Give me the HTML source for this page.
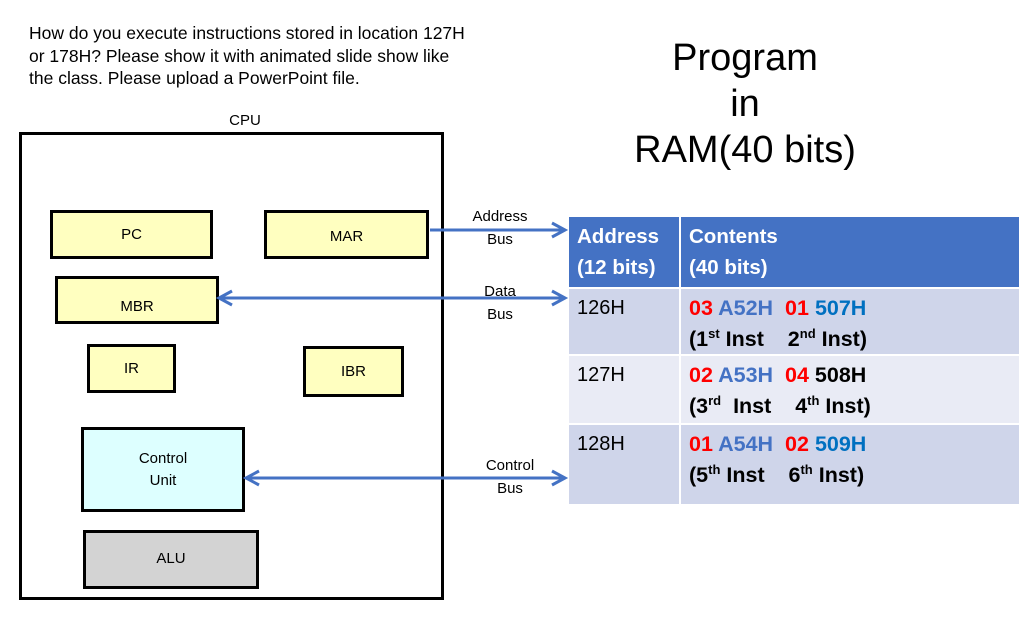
<!DOCTYPE html>
<html><head><meta charset="utf-8"><style>
body{margin:0;width:1022px;height:638px;background:#fff;position:relative;font-family:"Liberation Sans",sans-serif;overflow:hidden}
.a{position:absolute;box-sizing:border-box}
.bx{border:3px solid #000;background:#FFFFC0;display:flex;align-items:center;justify-content:center;font-size:15px}
.c{position:absolute;font-size:15px;text-align:center;line-height:23px}
.r{color:#f00}.b1{color:#4472C4}.b2{color:#0070C0}
.cell{position:absolute;box-sizing:border-box;padding:4px 0 0 8px;font-size:20px;line-height:31px}
.bold{font-weight:bold;font-size:21.5px}
sup{font-size:13px;line-height:0;vertical-align:8px}
</style></head><body>
<div class="a" style="left:29px;top:22px;font-size:17.5px;line-height:22.5px;width:520px">How do you execute instructions stored in location 127H<br>or 178H? Please show it with animated slide show like<br>the class. Please upload a PowerPoint file.</div>
<div class="a" style="left:580px;top:35px;width:330px;text-align:center;font-size:38px;line-height:46px">Program<br>in<br>RAM(40 bits)</div>
<div class="c" style="left:220px;top:109px;width:50px">CPU</div>
<div class="a" style="left:19px;top:132px;width:425px;height:468px;border:3px solid #000"></div>
<div class="a bx" style="left:50px;top:210px;width:163px;height:49px;padding-bottom:0px">PC</div>
<div class="a bx" style="left:264px;top:210px;width:165px;height:49px;padding-top:4px">MAR</div>
<div class="a bx" style="left:55px;top:276px;width:164px;height:48px;padding-top:12px">MBR</div>
<div class="a bx" style="left:87px;top:344px;width:89px;height:49px">IR</div>
<div class="a bx" style="left:303px;top:346px;width:101px;height:51px;padding-bottom:0px">IBR</div>
<div class="a bx" style="left:81px;top:427px;width:164px;height:85px;background:#DDFFFF;text-align:center;line-height:22px;padding-bottom:0px">Control<br>Unit</div>
<div class="a bx" style="left:83px;top:530px;width:176px;height:59px;background:#D3D3D3;padding-bottom:2px">ALU</div>
<svg class="a" style="left:0;top:0" width="1022" height="638">
<g stroke="#4472C4" stroke-width="3" fill="none">
<line x1="430" y1="230" x2="564" y2="230"/><polyline points="552,223 565,230 552,237"/>
<line x1="220" y1="298" x2="564" y2="298"/><polyline points="232,291 219,298 232,305"/><polyline points="552,291 565,298 552,305"/>
<line x1="247" y1="478" x2="564" y2="478"/><polyline points="552,471 565,478 552,485"/><polyline points="259,471 246,478 259,485"/>
</g></svg>
<div class="c" style="left:460px;top:205px;width:80px">Address<br>Bus</div>
<div class="c" style="left:460px;top:280px;width:80px">Data<br>Bus</div>
<div class="c" style="left:470px;top:454px;width:80px">Control<br>Bus</div>
<div class="cell bold" style="left:569px;top:217px;width:110px;height:70px;background:#4472C4;color:#fff;font-size:20.5px">Address<br>(12 bits)</div>
<div class="cell bold" style="left:681px;top:217px;width:338px;height:70px;background:#4472C4;color:#fff;font-size:20.5px">Contents<br>(40 bits)</div>
<div class="cell" style="left:569px;top:289px;width:110px;height:65px;background:#CFD5EA">126H</div>
<div class="cell bold" style="left:681px;top:289px;width:338px;height:65px;background:#CFD5EA;white-space:pre"><span class="r">03</span> <span class="b1">A52H</span>  <span class="r">01</span> <span class="b2">507H</span><br>(1<sup>st</sup> Inst    2<sup>nd</sup> Inst)</div>
<div class="cell" style="left:569px;top:356px;width:110px;height:67px;background:#E9EBF5">127H</div>
<div class="cell bold" style="left:681px;top:356px;width:338px;height:67px;background:#E9EBF5;white-space:pre"><span class="r">02</span> <span class="b1">A53H</span>  <span class="r">04</span> 508H<br>(3<sup>rd</sup>  Inst    4<sup>th</sup> Inst)</div>
<div class="cell" style="left:569px;top:425px;width:110px;height:79px;background:#CFD5EA">128H</div>
<div class="cell bold" style="left:681px;top:425px;width:338px;height:79px;background:#CFD5EA;white-space:pre"><span class="r">01</span> <span class="b1">A54H</span>  <span class="r">02</span> <span class="b2">509H</span><br>(5<sup>th</sup> Inst    6<sup>th</sup> Inst)</div>
</body></html>
